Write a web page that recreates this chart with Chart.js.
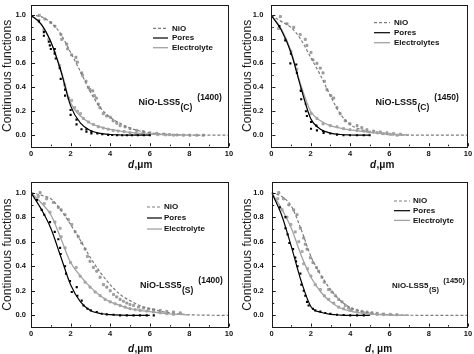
<!DOCTYPE html>
<html>
<head>
<meta charset="utf-8">
<script src="https://cdn.jsdelivr.net/npm/chart.js@4.4.1/dist/chart.umd.min.js"></script>
<style>
    html, body { margin: 0; padding: 0; background: #fff; }
    #wrap { position: relative; width: 474px; height: 354px; overflow: hidden; }
    .panel { position: absolute; width: 237px; height: 177px; }
</style>
</head>
<body>
<div id="wrap">
    <div class="panel" style="left:0;top:0"><canvas id="cC1400" width="237" height="177"></canvas></div>
    <div class="panel" style="left:237px;top:0"><canvas id="cC1450" width="237" height="177"></canvas></div>
    <div class="panel" style="left:0;top:177px"><canvas id="cS1400" width="237" height="177"></canvas></div>
    <div class="panel" style="left:237px;top:177px"><canvas id="cS1450" width="237" height="177"></canvas></div>
</div>
<script>
// Axes
const xTicks = [0, 2, 4, 6, 8, 10];
const xTickLabels = ['0', '2', '4', '6', '8', '10'];
const yTicks = [0, 0.2, 0.4, 0.6, 0.8, 1.0];
const yTickLabels = ['0.0', '0.2', '0.4', '0.6', '0.8', '1.0'];

// Abscisses des courbes ajustées (d, µm)
const dGrid = [0, 0.5, 1, 1.5, 2, 2.5, 3, 3.5, 4, 4.5, 5, 5.5, 6, 7, 8, 9, 10];

// NiO-LSS5(C) (1400)
const nioFitC1400   = [1, 0.99, 0.94, 0.845, 0.69, 0.53, 0.36, 0.23, 0.15, 0.10, 0.06, 0.035, 0.02, 0.006, 0.002, 0, 0];
const poresFitC1400 = [1, 0.93, 0.78, 0.54, 0.245, 0.10, 0.04, 0.015, 0.006, 0.002, 0, 0, 0, null, null, null, null];
const elecFitC1400  = [1, 0.93, 0.78, 0.55, 0.27, 0.16, 0.10, 0.07, 0.048, 0.035, 0.024, 0.016, 0.01, 0.004, 0.001, null, null];
const nioPtsC1400 = [[0.42,1.0],[0.7,0.97],[1.0,0.94],[1.21,0.91],[1.51,0.84],[1.55,0.8],[1.8,0.76],[1.85,0.72],[2.05,0.67],[2.27,0.65],[2.34,0.61],[2.56,0.52],[2.6,0.5],[2.78,0.45],[2.9,0.4],[2.98,0.38],[3.12,0.37],[3.2,0.33],[3.3,0.31],[3.4,0.26],[3.48,0.23],[3.65,0.18],[3.82,0.16],[4.0,0.15],[4.15,0.12],[4.33,0.1],[4.5,0.08],[4.75,0.07],[5.0,0.055],[5.34,0.04],[5.67,0.03],[6.0,0.02],[6.35,0.015],[6.7,0.01],[7.0,0.005],[7.37,0.002],[7.7,0],[8.03,0],[8.37,0],[8.7,0]];
const poresPtsC1400 = [[0.4,0.95],[0.65,0.86],[0.65,0.83],[0.9,0.78],[0.95,0.75],[1.0,0.72],[1.2,0.72],[1.2,0.68],[1.25,0.64],[1.45,0.56],[1.5,0.47],[1.72,0.38],[1.72,0.33],[2.0,0.21],[2.0,0.17],[2.3,0.13],[2.3,0.09],[2.55,0.05],[2.8,0.05],[2.8,0.03],[3.05,0.03],[3.05,0.015],[3.35,0.014],[3.6,0.008],[3.9,0.003],[4.1,0.002],[4.35,0],[4.6,0],[4.85,0],[5.1,0],[5.4,0],[5.7,0],[6.0,0]];
const elecPtsC1400 = [[0.4,0.96],[0.65,0.88],[0.9,0.8],[1.2,0.69],[1.45,0.58],[1.7,0.42],[1.9,0.31],[2.05,0.29],[2.2,0.23],[2.35,0.2],[2.5,0.18],[2.65,0.14],[2.9,0.11],[3.15,0.09],[3.4,0.07],[3.65,0.06],[3.9,0.05],[4.15,0.04],[4.4,0.035],[4.7,0.03],[5.0,0.02],[5.3,0.015],[5.6,0.01],[6.0,0.008],[6.4,0.005],[6.8,0.003],[7.2,0.001]];

// NiO-LSS5(C) (1450)
const nioFitC1450   = [1, 0.95, 0.90, 0.80, 0.65, 0.50, 0.33, 0.18, 0.09, 0.05, 0.025, 0.012, 0.005, 0.001, 0, 0, 0];
const poresFitC1450 = [1, 0.88, 0.69, 0.40, 0.14, 0.05, 0.018, 0.006, 0.002, 0, 0, null, null, null, null, null, null];
const elecFitC1450  = [1, 0.89, 0.70, 0.42, 0.20, 0.12, 0.08, 0.06, 0.045, 0.035, 0.025, 0.015, 0.008, 0.002, null, null, null];
const nioPtsC1450 = [[0.46,0.99],[0.8,0.93],[1.14,0.9],[1.47,0.84],[1.73,0.8],[1.81,0.75],[2.02,0.69],[2.12,0.63],[2.32,0.6],[2.49,0.56],[2.63,0.52],[2.7,0.45],[2.83,0.38],[3.03,0.33],[3.17,0.31],[3.34,0.23],[3.5,0.18],[3.76,0.12],[4.0,0.095],[4.36,0.08],[4.6,0.063],[4.86,0.046],[5.2,0.035],[5.54,0.027],[5.88,0.02],[6.22,0.014],[6.56,0.008]];
const poresPtsC1450 = [[0.41,0.91],[0.71,0.79],[1.0,0.68],[0.97,0.6],[1.27,0.59],[1.3,0.52],[1.5,0.37],[1.52,0.3],[1.76,0.2],[1.81,0.16],[2.02,0.11],[2.02,0.054],[2.29,0.08],[2.32,0.04],[2.63,0.035],[2.66,0.02],[3.0,0.014],[3.34,0.005],[3.67,0],[4.0,0],[4.36,0],[4.7,0],[5.0,0]];
const elecPtsC1450 = [[0.37,0.89],[0.71,0.8],[1.0,0.7],[1.3,0.55],[1.52,0.38],[1.76,0.26],[2.02,0.18],[2.32,0.14],[2.63,0.095],[3.0,0.08],[3.34,0.07],[3.67,0.055],[4.0,0.046],[4.36,0.04],[4.7,0.035],[5.0,0.027],[5.37,0.022],[5.7,0.014],[6.05,0.008],[6.4,0]];

// NiO-LSS5(S) (1400)
const nioFitS1400   = [1, 0.98, 0.95, 0.86, 0.74, 0.61, 0.47, 0.35, 0.25, 0.17, 0.12, 0.08, 0.055, 0.02, 0.005, 0.001, 0];
const poresFitS1400 = [1, 0.87, 0.71, 0.48, 0.25, 0.11, 0.04, 0.015, 0.005, 0.001, 0, 0, 0, null, null, null, null];
const elecFitS1400  = [1, 0.92, 0.82, 0.63, 0.43, 0.32, 0.23, 0.16, 0.11, 0.08, 0.054, 0.04, 0.03, 0.012, 0.004, null, null];
const nioPtsS1400 = [[0.46,1.0],[0.79,0.95],[1.13,0.92],[1.38,0.88],[1.52,0.86],[1.72,0.82],[1.89,0.78],[2.06,0.74],[2.23,0.68],[2.39,0.64],[2.56,0.59],[2.73,0.54],[2.85,0.48],[2.98,0.44],[3.15,0.39],[3.32,0.36],[3.49,0.31],[3.66,0.25],[3.83,0.23],[4.0,0.2],[4.17,0.17],[4.33,0.15],[4.5,0.13],[4.67,0.115],[4.84,0.1],[5.0,0.088],[5.18,0.08],[5.43,0.067],[5.68,0.059],[5.94,0.051],[6.19,0.046],[6.53,0.04],[6.86,0.032],[7.2,0.027],[7.54,0.02]];
const poresPtsS1400 = [[0.3,0.94],[0.54,0.86],[0.67,0.82],[0.96,0.76],[1.2,0.68],[1.38,0.62],[1.47,0.55],[1.5,0.5],[1.72,0.4],[1.77,0.34],[1.97,0.28],[2.06,0.19],[2.31,0.23],[2.34,0.16],[2.56,0.12],[2.65,0.08],[2.85,0.054],[3.02,0.04],[3.32,0.027],[3.57,0.013],[3.83,0.008],[4.17,0.005],[4.5,0],[4.84,0],[5.18,0],[5.5,0],[5.85,0],[6.2,0]];
const elecPtsS1400 = [[0.37,0.97],[0.67,0.91],[0.96,0.84],[1.21,0.76],[1.47,0.71],[1.52,0.64],[1.72,0.55],[2.0,0.43],[2.28,0.39],[2.48,0.32],[2.73,0.27],[2.98,0.23],[3.24,0.19],[3.49,0.16],[3.74,0.13],[4.0,0.11],[4.25,0.094],[4.5,0.08],[4.76,0.067],[5.0,0.054],[5.26,0.046],[5.51,0.04],[5.85,0.035],[6.19,0.027],[6.53,0.02],[6.86,0.013],[7.2,0.008]];

// NiO-LSS5(S) (1450)
const nioFitS1450   = [1, 0.97, 0.89, 0.70, 0.48, 0.33, 0.21, 0.12, 0.065, 0.035, 0.02, 0.01, 0.005, 0.001, 0, 0, 0];
const poresFitS1450 = [1, 0.82, 0.56, 0.28, 0.07, 0.025, 0.008, 0.002, 0, 0, 0, null, null, null, null, null, null];
const elecFitS1450  = [1, 0.87, 0.71, 0.49, 0.31, 0.19, 0.11, 0.06, 0.035, 0.02, 0.01, 0.005, 0.002, 0, null, null, null];
const nioPtsS1450 = [[0.36,1.0],[0.61,0.95],[0.87,0.9],[1.12,0.86],[1.29,0.82],[1.46,0.71],[1.63,0.63],[1.71,0.58],[1.8,0.54],[1.97,0.47],[2.1,0.43],[2.28,0.39],[2.39,0.36],[2.56,0.31],[2.68,0.27],[2.9,0.21],[3.07,0.19],[3.24,0.16],[3.41,0.13],[3.58,0.11],[3.75,0.08],[3.92,0.06],[4.09,0.05],[4.35,0.04],[4.6,0.032],[4.86,0.027],[5.11,0.021],[5.37,0.016],[5.7,0.011],[6.04,0.008],[6.38,0.005]];
const poresPtsS1450 = [[0.41,0.88],[0.7,0.8],[0.7,0.71],[0.81,0.66],[0.9,0.59],[1.09,0.54],[1.2,0.47],[1.24,0.44],[1.32,0.4],[1.46,0.34],[1.51,0.25],[1.63,0.2],[1.71,0.16],[1.8,0.11],[1.88,0.08],[2.1,0.054],[2.22,0.04],[2.48,0.03],[2.73,0.019],[2.99,0.013],[3.33,0.005],[3.67,0.003],[4.0,0],[4.35,0],[4.69,0]];
const elecPtsS1450 = [[0.31,0.95],[0.53,0.86],[0.78,0.8],[0.98,0.74],[1.2,0.68],[1.38,0.6],[1.55,0.52],[1.63,0.42],[1.83,0.38],[2.0,0.32],[2.22,0.25],[2.48,0.21],[2.68,0.16],[2.9,0.13],[3.16,0.1],[3.41,0.067],[3.67,0.054],[4.0,0.04],[4.35,0.027],[4.69,0.02],[5.03,0.013],[5.37,0.008],[5.7,0.005]];

// Styles communs
const FAMILY = "'Liberation Sans', Arial, sans-serif";
const tickFont = { family: FAMILY, size: 7.5, weight: 'bold' };
const seriesStyle = {
    nio:   { color: '#7c7c7c', dash: [3, 2], width: 1.2, point: '#a8a8a8', pointBorder: '#808080' },
    pores: { color: '#000000', dash: [],     width: 1.2, point: '#000000', pointBorder: '#000000' },
    elec:  { color: '#a2a2a2', dash: [],     width: 1.3, point: '#b4b4b4', pointBorder: '#8c8c8c' }
};

function fitData(ys) {
    return dGrid.map((x, i) => ({ x: x, y: ys[i] })).filter(p => p.y !== null);
}
function ptsData(pts) {
    return pts.map(p => ({ x: p[0], y: p[1] }));
}

// Décoration : cadre, graduations, légende, étiquette, titre de l'axe x
function decoPlugin(cfg) {
    return {
        id: 'deco',
        afterDraw(chart) {
            const ctx = chart.ctx;
            const a = chart.chartArea;
            const xs = chart.scales.x, ys = chart.scales.y;
            ctx.save();
            ctx.strokeStyle = '#1a1a1a';
            ctx.lineWidth = 1;
            ctx.setLineDash([]);
            ctx.strokeRect(Math.round(a.left) + 0.5, Math.round(a.top) + 0.5,
                Math.round(a.right - a.left) - 1, Math.round(a.bottom - a.top) - 1);

            // graduations vers l'intérieur
            ctx.beginPath();
            for (let i = 0; i <= 10; i++) {
                const px = Math.round(xs.getPixelForValue(i)) + 0.5;
                const len = i % 2 === 0 ? 3 : 1.5;
                ctx.moveTo(px, a.bottom - 1);
                ctx.lineTo(px, a.bottom - 1 - len);
            }
            for (let i = 0; i <= 10; i++) {
                const py = Math.round(ys.getPixelForValue(i / 10)) + 0.5;
                const len = i % 2 === 0 ? 3 : 1.5;
                ctx.moveTo(a.left + 1, py);
                ctx.lineTo(a.left + 1 + len, py);
            }
            ctx.stroke();

            // légende
            const lg = cfg.legend;
            ['nio', 'pores', 'elec'].forEach((k, i) => {
                const st = seriesStyle[k];
                const y = lg.y0 + i * lg.dy;
                ctx.beginPath();
                ctx.strokeStyle = st.color;
                ctx.lineWidth = st.width;
                ctx.setLineDash(st.dash);
                ctx.moveTo(lg.x0, y);
                ctx.lineTo(lg.x1, y);
                ctx.stroke();
                ctx.setLineDash([]);
                ctx.fillStyle = '#111';
                ctx.font = 'bold 8px ' + FAMILY;
                ctx.textBaseline = 'middle';
                ctx.textAlign = 'left';
                ctx.fillText(cfg.names[i], lg.tx, y);
            });

            // étiquette de l'échantillon
            const an = cfg.annot;
            const sc = an.scale || 1;
            ctx.fillStyle = '#111';
            ctx.textBaseline = 'alphabetic';
            ctx.font = 'bold ' + (9 * sc) + 'px ' + FAMILY;
            let x = an.x;
            ctx.fillText('NiO-LSS5', x, an.y);
            x += ctx.measureText('NiO-LSS5').width + 0.5;
            ctx.font = 'bold ' + (8.5 * sc) + 'px ' + FAMILY;
            ctx.fillText(an.sub, x, an.y + 4.5 * sc);
            x += ctx.measureText(an.sub).width + 5 * sc;
            ctx.fillText(an.temp, x, an.y - 5.5 * sc);

            // titre de l'axe x
            const xt = cfg.xTitle;
            ctx.font = 'italic bold 10px ' + FAMILY;
            ctx.fillText(xt.parts[0], xt.x, xt.y);
            ctx.font = 'bold 10px ' + FAMILY;
            ctx.fillText(xt.parts[1], xt.x + 6.5, xt.y);
            ctx.restore();
        }
    };
}

function buildPanel(canvasId, cfg) {
    const box = cfg.box;
    const ctx = document.getElementById(canvasId).getContext('2d');
    const mk = (k, fit, pts) => {
        const st = seriesStyle[k];
        return [
            {
                data: fitData(fit), showLine: true, pointRadius: 0,
                borderColor: st.color, borderWidth: st.width, borderDash: st.dash,
                cubicInterpolationMode: 'monotone', fill: false
            },
            {
                data: ptsData(pts), showLine: false, pointStyle: 'rect', pointRadius: 1.5,
                backgroundColor: st.point, borderColor: st.pointBorder, borderWidth: k === 'pores' ? 0 : 0.6
            }
        ];
    };
    new Chart(ctx, {
        type: 'scatter',
        data: {
            datasets: [
                ...mk('pores', cfg.poresFit, cfg.poresPts),
                ...mk('elec', cfg.elecFit, cfg.elecPts),
                ...mk('nio', cfg.nioFit, cfg.nioPts)
            ]
        },
        options: {
            responsive: false,
            animation: false,
            devicePixelRatio: 1,
            layout: { padding: { top: box.top, right: 237 - box.right, left: 0, bottom: 0 } },
            plugins: { legend: { display: false }, tooltip: { enabled: false } },
            scales: {
                x: {
                    type: 'linear', min: 0, max: 10,
                    grid: { display: false, drawTicks: false }, border: { display: false },
                    ticks: {
                        font: tickFont, color: '#111', padding: 2, maxRotation: 0, autoSkip: false,
                        callback: (v, i) => xTickLabels[i]
                    },
                    afterBuildTicks: s => { s.ticks = xTicks.map(v => ({ value: v })); },
                    afterFit: s => { s.height = 177 - box.bottom; s.paddingLeft = 0; s.paddingRight = 0; }
                },
                y: {
                    type: 'linear', min: -0.1, max: 1.09,
                    grid: { display: false, drawTicks: false }, border: { display: false },
                    ticks: {
                        font: tickFont, color: '#111', padding: cfg.yPad, autoSkip: false,
                        callback: (v, i) => yTickLabels[i]
                    },
                    title: {
                        display: true, text: 'Continuous functions', color: '#1a1a1a',
                        font: { family: FAMILY, size: 12 }, padding: { top: cfg.yTitlePad, bottom: 0 }
                    },
                    afterBuildTicks: s => { s.ticks = yTicks.map(v => ({ value: v })); },
                    afterFit: s => { s.width = box.left; s.paddingTop = 0; s.paddingBottom = 0; }
                }
            }
        },
        plugins: [decoPlugin(cfg)]
    });
}

document.addEventListener('DOMContentLoaded', () => {
    buildPanel('cC1400', {
        nioFit: nioFitC1400, poresFit: poresFitC1400, elecFit: elecFitC1400,
        nioPts: nioPtsC1400, poresPts: poresPtsC1400, elecPts: elecPtsC1400,
        names: ['NiO', 'Pores', 'Electrolyte'],
        box: { left: 31, right: 229, top: 1.7, bottom: 147.2 }, yPad: 5, yTitlePad: 0,
        legend: { x0: 153, x1: 168, tx: 172, y0: 28.3, dy: 9.7 },
        annot: { x: 138.5, y: 105, sub: '(C)', temp: '(1400)' },
        xTitle: { x: 128, y: 168, parts: ['d', ',μm'] }
    });
    buildPanel('cC1450', {
        nioFit: nioFitC1450, poresFit: poresFitC1450, elecFit: elecFitC1450,
        nioPts: nioPtsC1450, poresPts: poresPtsC1450, elecPts: elecPtsC1450,
        names: ['NiO', 'Pores', 'Electrolytes'],
        box: { left: 34.3, right: 231, top: 1.7, bottom: 147.2 }, yPad: 8, yTitlePad: 3,
        legend: { x0: 137, x1: 153, tx: 157, y0: 22.7, dy: 10 },
        annot: { x: 138.5, y: 105, sub: '(C)', temp: '(1450)' },
        xTitle: { x: 133, y: 168, parts: ['d', ',μm'] }
    });
    buildPanel('cS1400', {
        nioFit: nioFitS1400, poresFit: poresFitS1400, elecFit: elecFitS1400,
        nioPts: nioPtsS1400, poresPts: poresPtsS1400, elecPts: elecPtsS1400,
        names: ['NiO', 'Pores', 'Electrolyte'],
        box: { left: 31, right: 229, top: 2.8, bottom: 150.6 }, yPad: 5, yTitlePad: 0,
        legend: { x0: 147, x1: 162, tx: 164, y0: 30, dy: 11 },
        annot: { x: 140, y: 111, sub: '(S)', temp: '(1400)' },
        xTitle: { x: 128, y: 175, parts: ['d', ',μm'] }
    });
    buildPanel('cS1450', {
        nioFit: nioFitS1450, poresFit: poresFitS1450, elecFit: elecFitS1450,
        nioPts: nioPtsS1450, poresPts: poresPtsS1450, elecPts: elecPtsS1450,
        names: ['NiO', 'Pores', 'Electrolyte'],
        box: { left: 34.7, right: 231, top: 2.8, bottom: 150.6 }, yPad: 8, yTitlePad: 3,
        legend: { x0: 157, x1: 173, tx: 176, y0: 24, dy: 9.7 },
        annot: { x: 155, y: 111, sub: '(S)', temp: '(1450)', scale: 0.88 },
        xTitle: { x: 128, y: 175, parts: ['d', ', μm'] }
    });
});
</script>
</body>
</html>
